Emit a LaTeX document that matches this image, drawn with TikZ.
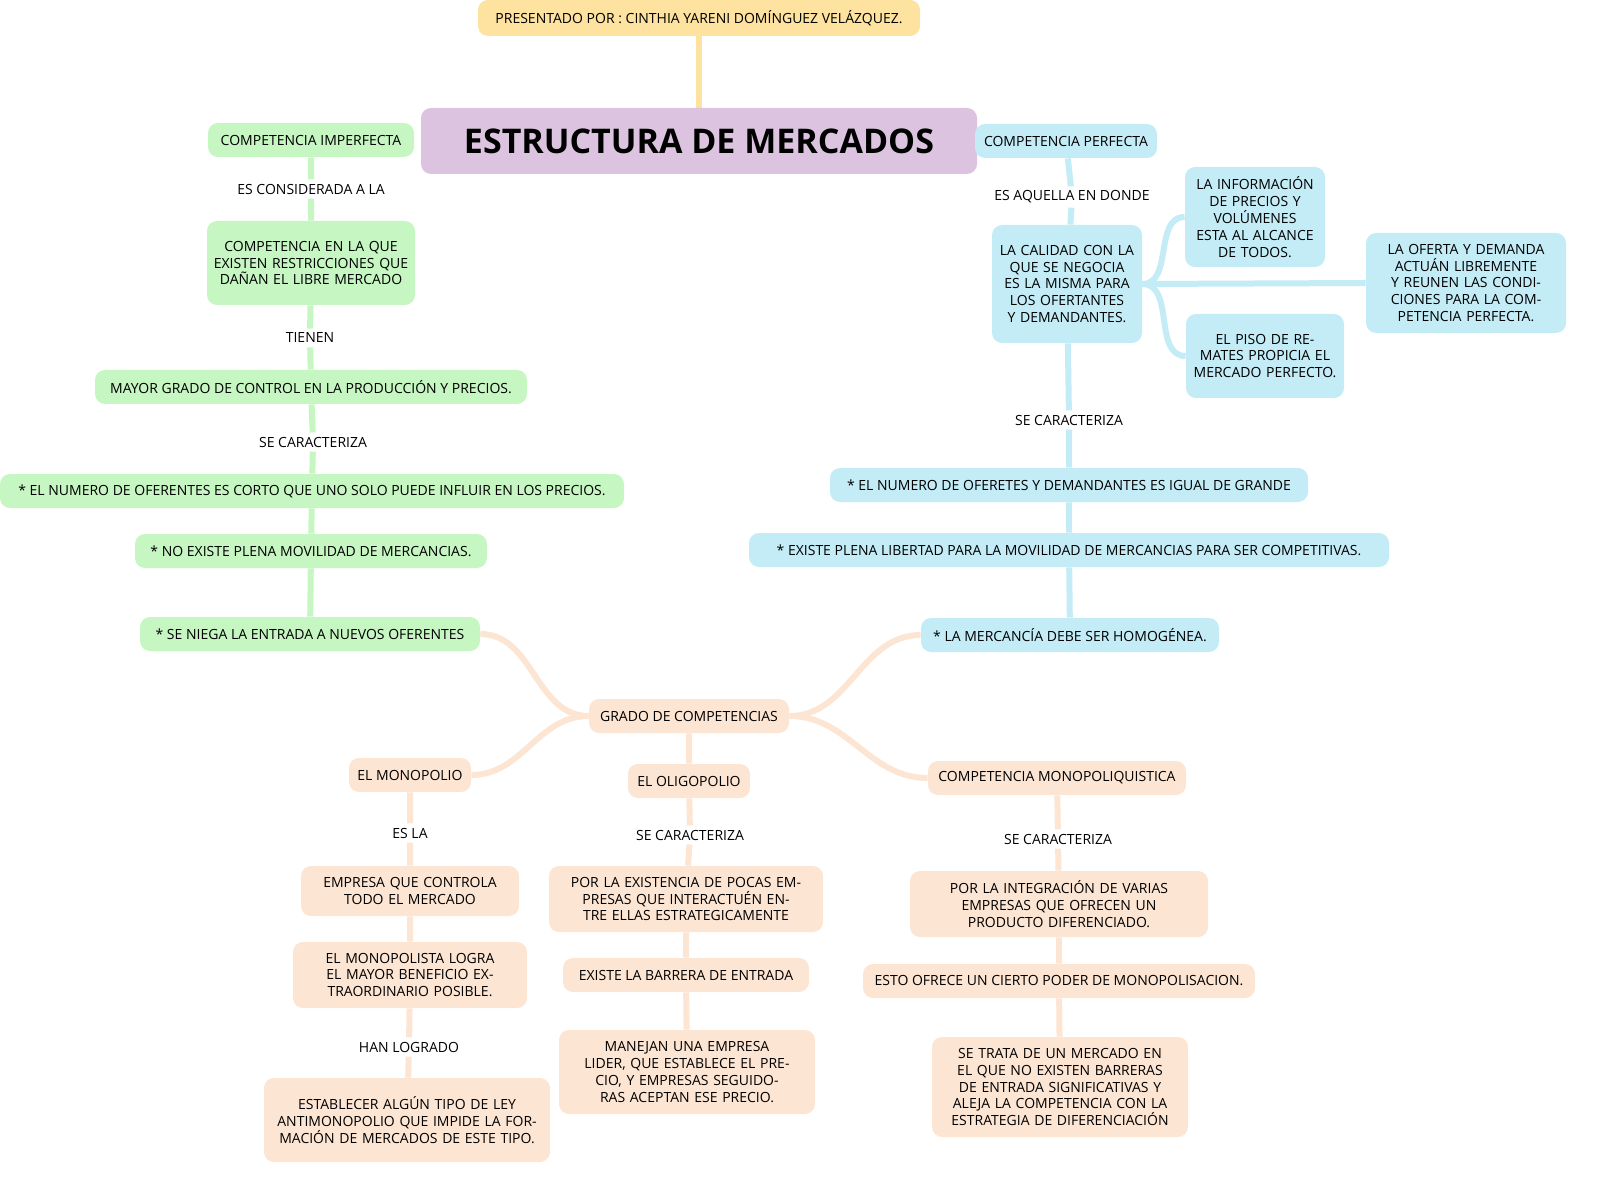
\documentclass[tikz,border=0pt]{standalone}
\usepackage{fontspec}
\setmainfont{Open Sans}
\usetikzlibrary{backgrounds}
\definecolor{gr}{HTML}{C6F6C2}
\definecolor{bl}{HTML}{C3ECF7}
\definecolor{pe}{HTML}{FDE5D3}
\definecolor{ye}{HTML}{FDE2A0}
\definecolor{pu}{HTML}{DCC4E0}
\tikzset{
 bx/.style={rounded corners=5pt,inner sep=2pt,align=center,font=\fontsize{7}{8.4}\selectfont},
 g/.style={bx,fill=gr}, b/.style={bx,fill=bl}, p/.style={bx,fill=pe},
 lb/.style={fill=white,inner sep=2pt,font=\fontsize{7}{8.4}\selectfont},
 cg/.style={draw=gr,line width=3pt}, cb/.style={draw=bl,line width=3pt},
 cp/.style={draw=pe,line width=3pt}, cy/.style={draw=ye,line width=3pt}
}
\begin{document}
\begin{tikzpicture}[x=0.5pt,y=-0.5pt]
\useasboundingbox (0,0) rectangle (1600,1187);
\node[bx,fill=ye,minimum width=221pt,minimum height=18pt] (top) at (699,18) {PRESENTADO POR : CINTHIA YARENI DOMÍNGUEZ VELÁZQUEZ.};
\node[bx,fill=pu,minimum width=278pt,minimum height=33pt,font=\fontsize{17}{20}\selectfont\bfseries] (title) at (699,141) {ESTRUCTURA DE MERCADOS};
% left green
\node[g,minimum width=103pt,minimum height=17pt] (ci) at (311,140) {COMPETENCIA IMPERFECTA};
\node[lb] (l1) at (311,189) {ES CONSIDERADA A LA};
\node[g,minimum width=104pt,minimum height=42pt,text width=98pt] (ci2) at (311,263) {COMPETENCIA EN LA QUE EXISTEN RESTRICCIONES QUE DAÑAN EL LIBRE MERCADO};
\node[lb] (l2) at (310,338) {TIENEN};
\node[g,minimum width=216pt,minimum height=17pt] (my) at (311,387) {MAYOR GRADO DE CONTROL EN LA PRODUCCIÓN Y PRECIOS.};
\node[lb] (l3) at (313,442) {SE CARACTERIZA};
\node[g,minimum width=312pt,minimum height=17pt] (n1) at (312,491) {* EL NUMERO DE OFERENTES ES CORTO QUE UNO SOLO PUEDE INFLUIR EN LOS PRECIOS.};
\node[g,minimum width=176pt,minimum height=17pt] (n2) at (311,551) {* NO EXISTE PLENA MOVILIDAD DE MERCANCIAS.};
\node[g,minimum width=170pt,minimum height=17pt] (n3) at (310,634) {* SE NIEGA LA ENTRADA A NUEVOS OFERENTES};
% right blue
\node[b,minimum width=91pt,minimum height=17pt] (cp) at (1066,141) {COMPETENCIA PERFECTA};
\node[lb] (r1) at (1072,197) {ES AQUELLA EN DONDE};
\node[b,minimum width=75pt,minimum height=59pt,text width=70pt] (cal) at (1067,284) {LA CALIDAD CON LA QUE SE NEGOCIA ES LA MISMA PARA LOS OFERTANTES Y DEMANDANTES.};
\node[b,minimum width=70pt,minimum height=50pt,text width=64pt] (inf) at (1255,217) {LA INFORMACIÓN DE PRECIOS Y VOLÚMENES ESTA AL ALCANCE DE TODOS.};
\node[b,minimum width=100pt,minimum height=50pt,text width=94pt] (of) at (1466,283) {LA OFERTA Y DEMANDA ACTUÁN LIBREMENTE Y REUNEN LAS CONDICIONES PARA LA COMPETENCIA PERFECTA.};
\node[b,minimum width=79pt,minimum height=42pt,text width=72pt] (pi) at (1265,356) {EL PISO DE REMATES PROPICIA EL MERCADO PERFECTO.};
\node[lb] (r2) at (1069,420) {SE CARACTERIZA};
\node[b,minimum width=239pt,minimum height=17pt] (m1) at (1069,485) {* EL NUMERO DE OFERETES Y DEMANDANTES ES IGUAL DE GRANDE};
\node[b,minimum width=320pt,minimum height=17pt] (m2) at (1069,550) {* EXISTE PLENA LIBERTAD PARA LA MOVILIDAD DE MERCANCIAS PARA SER COMPETITIVAS.};
\node[b,minimum width=149pt,minimum height=17pt] (m3) at (1070,635) {* LA MERCANCÍA DEBE SER HOMOGÉNEA.};
% bottom peach
\node[p,minimum width=100pt,minimum height=17pt] (gr) at (689,716) {GRADO DE COMPETENCIAS};
\node[p,minimum width=61pt,minimum height=17pt] (mo) at (410,775) {EL MONOPOLIO};
\node[p,minimum width=61pt,minimum height=17pt] (ol) at (689,781) {EL OLIGOPOLIO};
\node[p,minimum width=129pt,minimum height=17pt] (cm) at (1057,778) {COMPETENCIA MONOPOLIQUISTICA};
\node[lb] (b1) at (410,833) {ES LA};
\node[lb] (b2) at (690,835) {SE CARACTERIZA};
\node[lb] (b3) at (1058,839) {SE CARACTERIZA};
\node[p,minimum width=109pt,minimum height=25pt,text width=100pt] (e1) at (410,891) {EMPRESA QUE CONTROLA TODO EL MERCADO};
\node[p,minimum width=117pt,minimum height=33pt,text width=108pt] (e2) at (410,975) {EL MONOPOLISTA LOGRA EL MAYOR BENEFICIO EXTRAORDINARIO POSIBLE.};
\node[lb] (b4) at (409,1047) {HAN LOGRADO};
\node[p,minimum width=143pt,minimum height=42pt,text width=136pt] (e3) at (407,1120) {ESTABLECER ALGÚN TIPO DE LEY ANTIMONOPOLIO QUE IMPIDE LA FORMACIÓN DE MERCADOS DE ESTE TIPO.};
\node[p,minimum width=137pt,minimum height=33pt,text width=130pt] (o1) at (686,899) {POR LA EXISTENCIA DE POCAS EMPRESAS QUE INTERACTUÉN ENTRE ELLAS ESTRATEGICAMENTE};
\node[p,minimum width=123pt,minimum height=17pt] (o2) at (686,975) {EXISTE LA BARRERA DE ENTRADA};
\node[p,minimum width=128pt,minimum height=42pt,text width=120pt] (o3) at (687,1072) {MANEJAN UNA EMPRESA LIDER, QUE ESTABLECE EL PRECIO, Y EMPRESAS SEGUIDORAS ACEPTAN ESE PRECIO.};
\node[p,minimum width=149pt,minimum height=33pt,text width=142pt] (c1) at (1059,904) {POR LA INTEGRACIÓN DE VARIAS EMPRESAS QUE OFRECEN UN PRODUCTO DIFERENCIADO.};
\node[p,minimum width=196pt,minimum height=17pt] (c2) at (1059,981) {ESTO OFRECE UN CIERTO PODER DE MONOPOLISACION.};
\node[p,minimum width=128pt,minimum height=50pt,text width=122pt] (c3) at (1060,1087) {SE TRATA DE UN MERCADO EN EL QUE NO EXISTEN BARRERAS DE ENTRADA SIGNIFICATIVAS Y ALEJA LA COMPETENCIA CON LA ESTRATEGIA DE DIFERENCIACIÓN};
\begin{scope}[on background layer]
\draw[cy] (top) -- (title);
\draw[cg] (ci) -- (l1) -- (ci2) -- (l2) -- (my) -- (l3) -- (n1) -- (n2) -- (n3);
\draw[cb] (cp) -- (r1) -- (cal) -- (r2) -- (m1) -- (m2) -- (m3);
\draw[cb] (cal.east) to[out=0,in=180] (inf.west);
\draw[cb] (cal.east) -- (of.west);
\draw[cb] (cal.east) to[out=0,in=180] (pi.west);
\draw[cp] (gr.west) to[out=180,in=0] (n3.east);
\draw[cp] (gr.east) to[out=0,in=180] (m3.west);
\draw[cp] (gr.west) to[out=180,in=0] (mo.east);
\draw[cp] (gr.east) to[out=0,in=180] (cm.west);
\draw[cp] (gr) -- (ol) -- (b2) -- (o1) -- (o2) -- (o3);
\draw[cp] (mo) -- (b1) -- (e1) -- (e2) -- (b4) -- (e3);
\draw[cp] (cm) -- (b3) -- (c1) -- (c2) -- (c3);
\end{scope}
\end{tikzpicture}
\end{document}
